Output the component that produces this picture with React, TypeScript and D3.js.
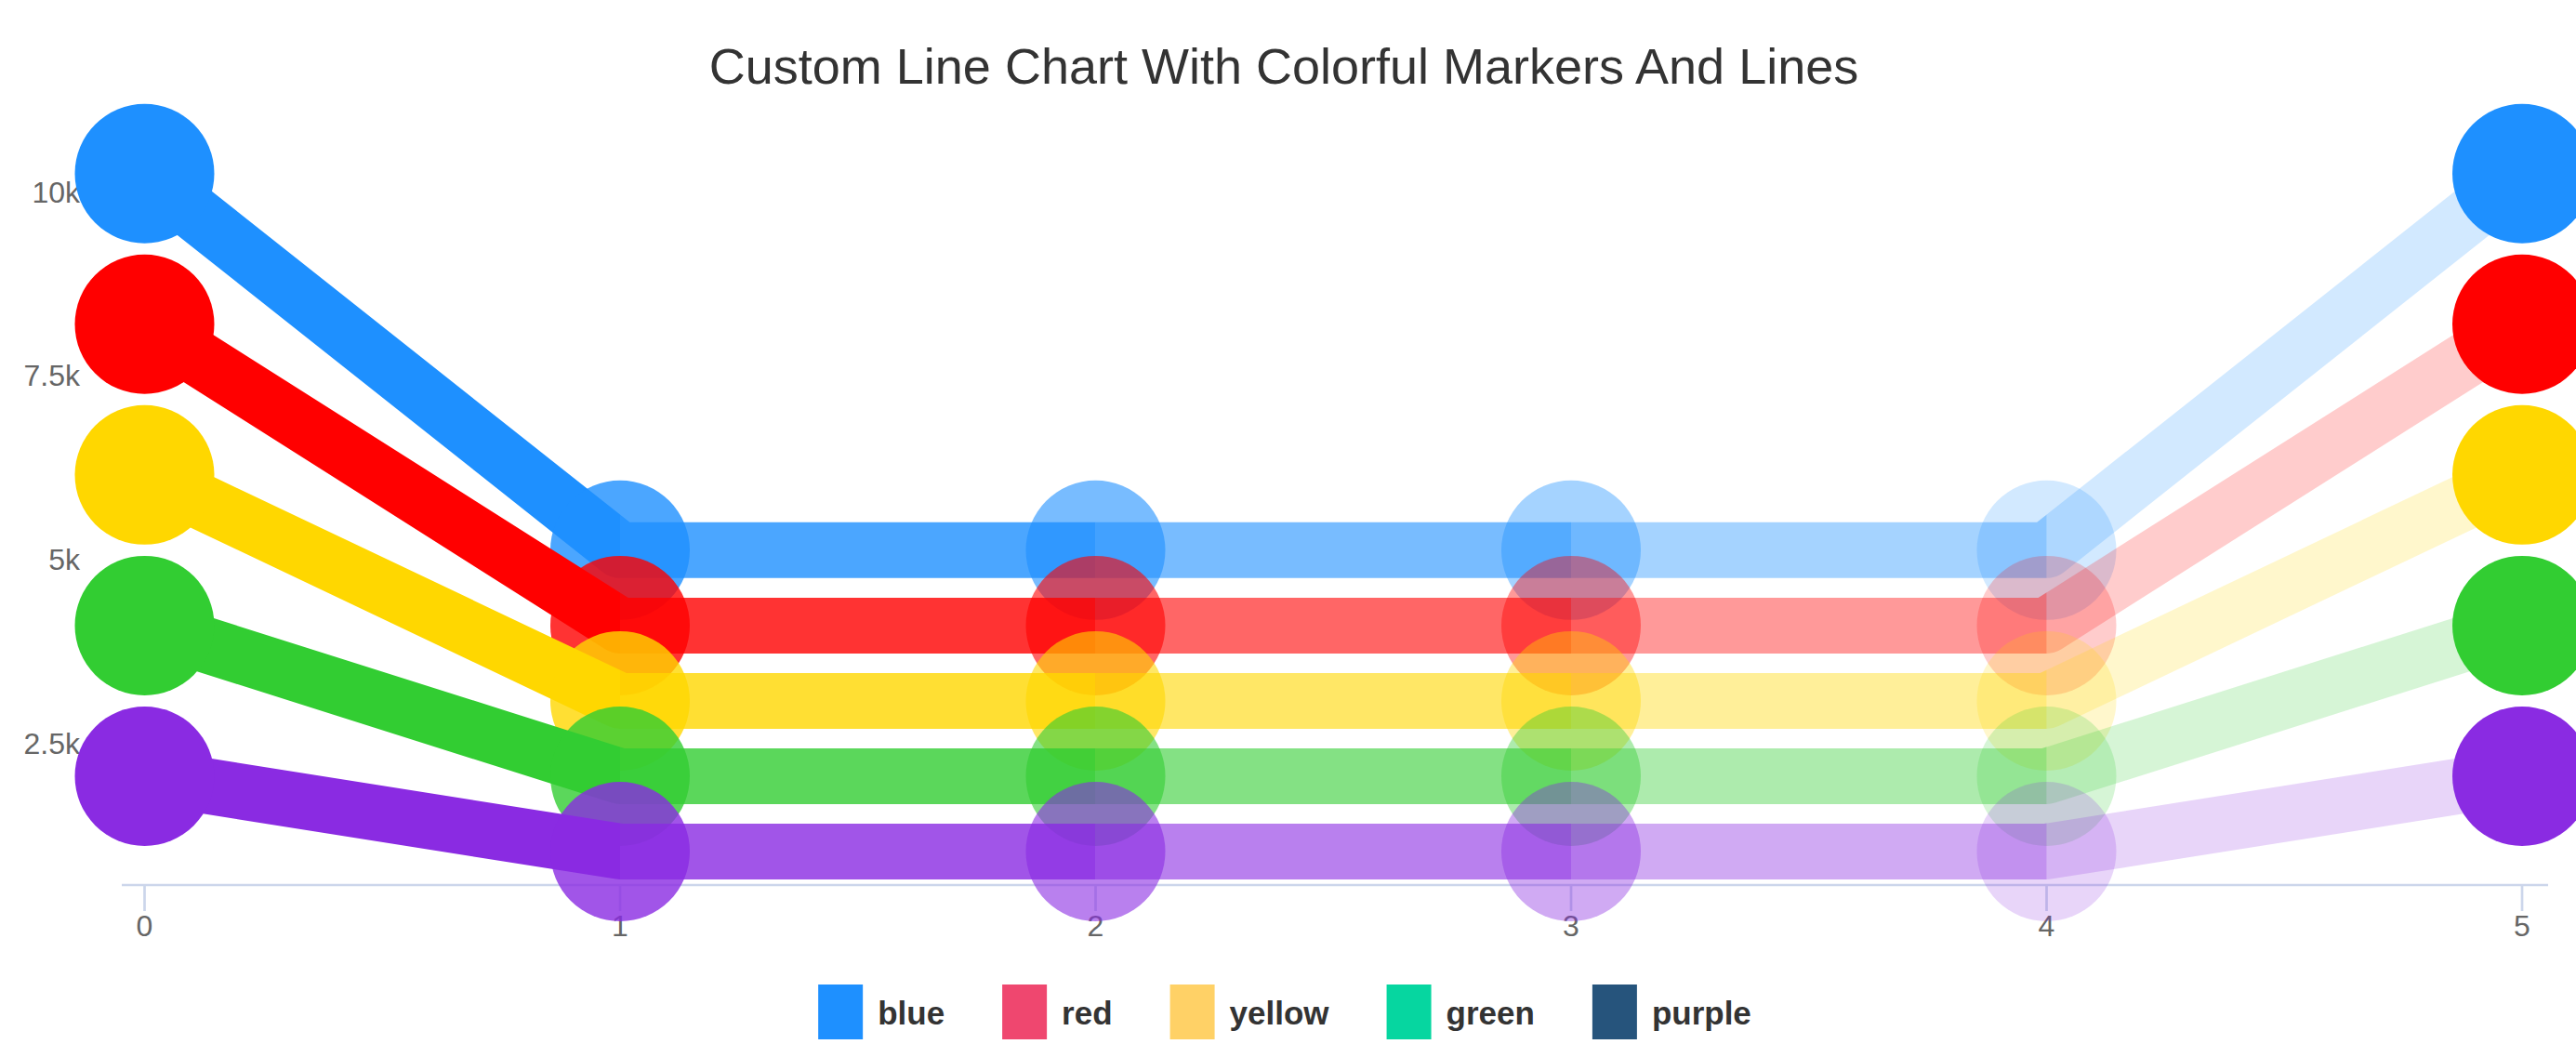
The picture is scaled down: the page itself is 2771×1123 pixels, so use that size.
import React, { useEffect, useRef } from 'react';
import * as d3 from 'd3';

const title = 'Custom Line Chart With Colorful Markers And Lines';
const xValues = [0, 1, 2, 3, 4, 5];
const seriesNames = ['blue', 'red', 'yellow', 'green', 'purple'];
const blueValues = [10250, 5125, 5125, 5125, 5125, 10250];
const redValues = [8200, 4100, 4100, 4100, 4100, 8200];
const yellowValues = [6150, 3075, 3075, 3075, 3075, 6150];
const greenValues = [4100, 2050, 2050, 2050, 2050, 4100];
const purpleValues = [2050, 1025, 1025, 1025, 1025, 2050];
const lineColors = ['#1E90FF', '#FF0000', '#FFD700', '#32CD32', '#8A2BE2'];
const legendColors = ['#1E90FF', '#EF476F', '#FFD166', '#06D6A0', '#26547C'];
const zoneOpacities = [1, 0.8, 0.6, 0.4, 0.2];
const markerOpacities = [1, 0.8, 0.6, 0.4, 0.2, 1];
const yTickValues = [2500, 5000, 7500, 10000];
const yTickLabels = ['2.5k', '5k', '7.5k', '10k'];

const W = 2771;
const H = 1123;
const FONT = '"Liberation Sans", Arial, Helvetica, sans-serif';

export default function App() {
  const ref = useRef<SVGSVGElement | null>(null);

  useEffect(() => {
    document.body.style.margin = '0';
    const svg = d3.select(ref.current);
    svg.selectAll('*').remove();

    const allSeries = [blueValues, redValues, yellowValues, greenValues, purpleValues];
    const x = d3.scaleLinear().domain([0, 5]).range([155.5, 2713]);
    const y = d3.scaleLinear().domain([0, 10000]).range([997, 206.5]);
    const axisY = 952;

    // title
    svg.append('text')
      .attr('x', 1381).attr('y', 90)
      .attr('text-anchor', 'middle')
      .attr('font-family', FONT).attr('font-size', 54)
      .attr('fill', '#333333')
      .text(title);

    // clip paths for zones
    const defs = svg.append('defs');
    for (let i = 0; i < xValues.length - 1; i++) {
      const x0 = i === 0 ? 0 : x(xValues[i]);
      const x1 = i === xValues.length - 2 ? W : x(xValues[i + 1]);
      defs.append('clipPath').attr('id', 'zone-' + i)
        .append('rect').attr('x', x0).attr('y', 0).attr('width', x1 - x0).attr('height', H);
    }

    // axes
    const axis = svg.append('g');
    axis.append('line')
      .attr('x1', 131).attr('x2', 2741).attr('y1', axisY).attr('y2', axisY)
      .attr('stroke', '#ccd6eb').attr('stroke-width', 2.7);
    xValues.forEach((v) => {
      axis.append('line')
        .attr('x1', x(v)).attr('x2', x(v)).attr('y1', axisY).attr('y2', axisY + 28)
        .attr('stroke', '#ccd6eb').attr('stroke-width', 2.7);
      axis.append('text')
        .attr('x', x(v)).attr('y', 1007)
        .attr('text-anchor', 'middle')
        .attr('font-family', FONT).attr('font-size', 32)
        .attr('fill', '#666666')
        .text(String(v));
    });
    yTickValues.forEach((v, i) => {
      axis.append('text')
        .attr('x', 86).attr('y', y(v)).attr('dy', '0.35em')
        .attr('text-anchor', 'end')
        .attr('font-family', FONT).attr('font-size', 32)
        .attr('fill', '#666666')
        .text(yTickLabels[i]);
    });

    // series
    const line = d3.line<number>()
      .x((_, i) => x(xValues[i]))
      .y((d) => y(d));

    allSeries.forEach((vals, s) => {
      const g = svg.append('g');
      zoneOpacities.forEach((op, z) => {
        g.append('path')
          .attr('d', line(vals) as string)
          .attr('fill', 'none')
          .attr('stroke', lineColors[s])
          .attr('stroke-opacity', op)
          .attr('stroke-width', 60)
          .attr('stroke-linejoin', 'round')
          .attr('stroke-linecap', 'round')
          .attr('clip-path', `url(#zone-${z})`);
      });
      vals.forEach((v, i) => {
        g.append('circle')
          .attr('cx', x(xValues[i])).attr('cy', y(v)).attr('r', 75)
          .attr('fill', lineColors[s])
          .attr('fill-opacity', markerOpacities[i]);
      });
    });

    // legend
    const legend = svg.append('g');
    const items = seriesNames.map((name, i) => {
      const g = legend.append('g');
      g.append('rect').attr('x', 0).attr('y', 1059).attr('width', 48).attr('height', 59)
        .attr('fill', legendColors[i]);
      const t = g.append('text').attr('x', 64).attr('y', 1102)
        .attr('font-family', FONT).attr('font-size', 35).attr('font-weight', 'bold')
        .attr('fill', '#333333').text(name);
      const tw = (t.node() as SVGTextElement).getComputedTextLength();
      return { g, w: 64 + tw };
    });
    const gap = 62;
    const total = items.reduce((a, it) => a + it.w, 0) + gap * (items.length - 1);
    let cx = 1382 - total / 2;
    items.forEach((it) => {
      it.g.attr('transform', `translate(${cx},0)`);
      cx += it.w + gap;
    });
  }, []);

  return (
    <svg ref={ref} width={W} height={H} style={{ display: 'block', background: '#ffffff' }} />
  );
}
